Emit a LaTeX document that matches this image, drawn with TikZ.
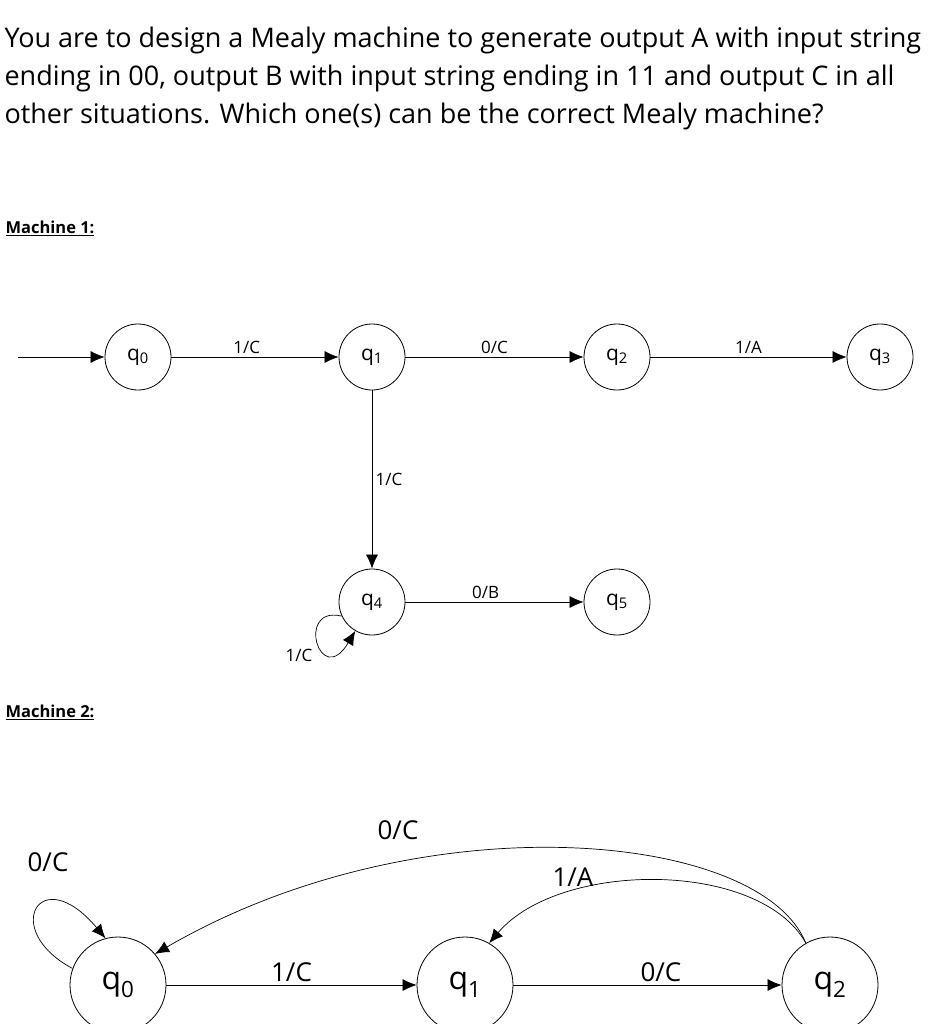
\documentclass[tikz,border=0pt]{standalone}
\usepackage{fontspec}
\setmainfont{Open Sans}
\usetikzlibrary{arrows.meta}
\begin{document}
\begin{tikzpicture}[x=1pt,y=-1pt,
 st/.style={circle,draw,line width=0.8pt,minimum size=66pt,inner sep=0pt,font=\fontsize{21}{21}\selectfont},
 stb/.style={circle,draw,line width=0.8pt,minimum size=96pt,inner sep=0pt,font=\fontsize{32}{32}\selectfont},
 ar/.style={draw,line width=0.7pt,-{Latex[length=14pt,width=12pt]}},
 lb/.style={font=\fontsize{17}{17}\selectfont},
 lbb/.style={font=\fontsize{26}{26}\selectfont}]
\useasboundingbox (0,0) rectangle (940,1024);
\node[anchor=west,align=left,font=\fontsize{27}{38}\selectfont] (t) at (1,78) {You are to design a Mealy machine to generate output A with input string\\ending in 00, output B with input string ending in 11 and output C in all\\other situations. Which one(s) can be the correct Mealy machine?};
\node[anchor=west,font=\bfseries\fontsize{16.5}{16}\selectfont] (m1) at (2,228) {\underline{Machine 1:}};
\node[anchor=west,font=\bfseries\fontsize{16.5}{16}\selectfont] (m2) at (2,712) {\underline{Machine 2:}};
% machine 1
\node[st] (a0) at (138,357) {q\textsubscript{0}};
\node[st] (a1) at (372,357) {q\textsubscript{1}};
\node[st] (a2) at (617,357) {q\textsubscript{2}};
\node[st] (a3) at (880,357) {q\textsubscript{3}};
\node[st] (a4) at (372,602) {q\textsubscript{4}};
\node[st] (a5) at (617,602) {q\textsubscript{5}};
\coordinate (s) at (18,357);
\draw[ar] (s) -- (a0);
\draw[ar] (a0) -- node[lb,above,pos=0.45]{1/C} (a1);
\draw[ar] (a1) -- node[lb,above,pos=0.5]{0/C} (a2);
\draw[ar] (a2) -- node[lb,above,pos=0.5]{1/A} (a3);
\draw[ar] (a1) -- node[lb,right,pos=0.5]{1/C} (a4);
\draw[ar] (a4) -- node[lb,above,pos=0.45]{0/B} (a5);
\draw[ar] (a4.205) .. controls (295,605) and (320,690) .. (a4.240);
\node[lb] (l4) at (299,655) {1/C};
% machine 2
\node[stb] (b0) at (118,985) {q\textsubscript{0}};
\node[stb] (b1) at (465,985) {q\textsubscript{1}};
\node[stb] (b2) at (830,985) {q\textsubscript{2}};
\draw[ar] (b0.160) .. controls (0,930) and (40,860) .. (b0.105);
\node[lbb] (l0) at (48,862) {0/C};
\draw[ar] (b0) -- node[lbb,above,pos=0.5]{1/C} (b1);
\draw[ar] (b1) -- node[lbb,above,pos=0.55]{0/C} (b2);
\draw[ar] (b2.120) .. controls (760,830) and (420,800) .. (b0.40);
\node[lbb] (lc) at (398,830) {0/C};
\draw[ar] (b2.120) .. controls (760,860) and (560,860) .. (b1.60);
\node[lbb] (la) at (573,877) {1/A};
\end{tikzpicture}
\end{document}
